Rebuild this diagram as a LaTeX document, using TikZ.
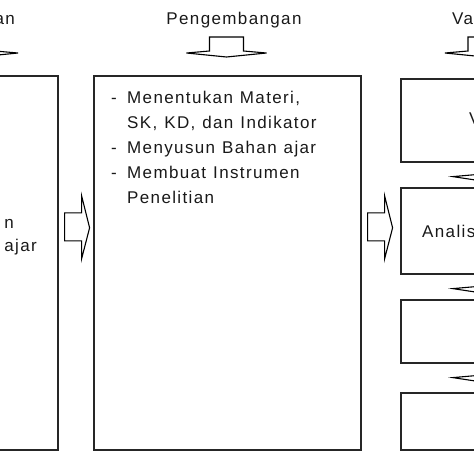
\documentclass[tikz,border=0pt]{standalone}
\usepackage{fontspec}
\setmainfont{Liberation Sans}[LetterSpace=8,WordSpace=1.15]
\begin{document}
\begin{tikzpicture}[x=1pt,y=-1pt,
  box/.style={draw=black!85, line width=1.6pt, inner sep=0pt, anchor=north west},
  blockarrow/.style={draw=black, line width=1.1pt, fill=white, line join=miter},
  lbl/.style={font=\fontsize{17}{25}\selectfont, text=black!90, inner sep=0pt}]
\useasboundingbox (0,0) rectangle (474,474);
\clip (0,0) rectangle (474,474);

% kolom
\node[box, minimum width=160, minimum height=374] (kiri) at (-103,75) {};
\node[box, minimum width=267, minimum height=374] (tengah) at (93,75) {};
\node[box, minimum width=170, minimum height=83] (val) at (400,78) {};
\node[box, minimum width=170, minimum height=86] (analisis) at (400,187) {};
\node[box, minimum width=170, minimum height=63] (kanan3) at (400,299) {};
\node[box, minimum width=170, minimum height=57] (kanan4) at (400,392) {};

% judul
\node[lbl, anchor=base east] (judulkiri) at (15,24) {an};
\node[lbl, anchor=base] (judultengah) at (234,24) {Pengembangan};
\node[lbl, anchor=base west] (judulkanan) at (452,24) {Va};

% isi
\node[lbl, anchor=base east] (kiri1) at (14,228) {n};
\node[lbl, anchor=base east] (kiri2) at (37,251) {ajar};
\node[lbl, anchor=base west, align=left] (isi) at (111,103) {%
  \begin{tabular}[t]{@{}p{16pt}@{}l@{}}
  - & Menentukan Materi,\\
    & SK, KD, dan Indikator\\
  - & Menyusun Bahan ajar\\
  - & Membuat Instrumen\\
    & Penelitian
  \end{tabular}};
\node[lbl, anchor=base west] (val1) at (469,124) {V};
\node[lbl, anchor=base west] (analisis1) at (422,237) {Analis};

% panah ke bawah
\foreach \p in {(-22,75),(226.5,75),(485,75)}
  \draw[blockarrow, shift={\p}] (-17,-38) -- (17,-38) -- (17,-24) -- (40,-22)
    -- (0,-18) -- (-40,-22) -- (-17,-24) -- cycle;
\foreach \a in {val.south, analisis.south, kanan3.south}
  \draw[blockarrow, shift={(\a)}] (-10,3) -- (10,3) -- (10,12) -- (33,14)
    -- (0,19) -- (-33,14) -- (-10,12) -- cycle;

% panah ke kanan
\foreach \a in {kiri.east, tengah.east}
  \draw[blockarrow, shift={(\a)}] (6,-50) -- (23,-50) -- (23,-67) -- (31,-35)
    -- (23,-4) -- (23,-22) -- (6,-22) -- cycle;
\end{tikzpicture}
\end{document}
